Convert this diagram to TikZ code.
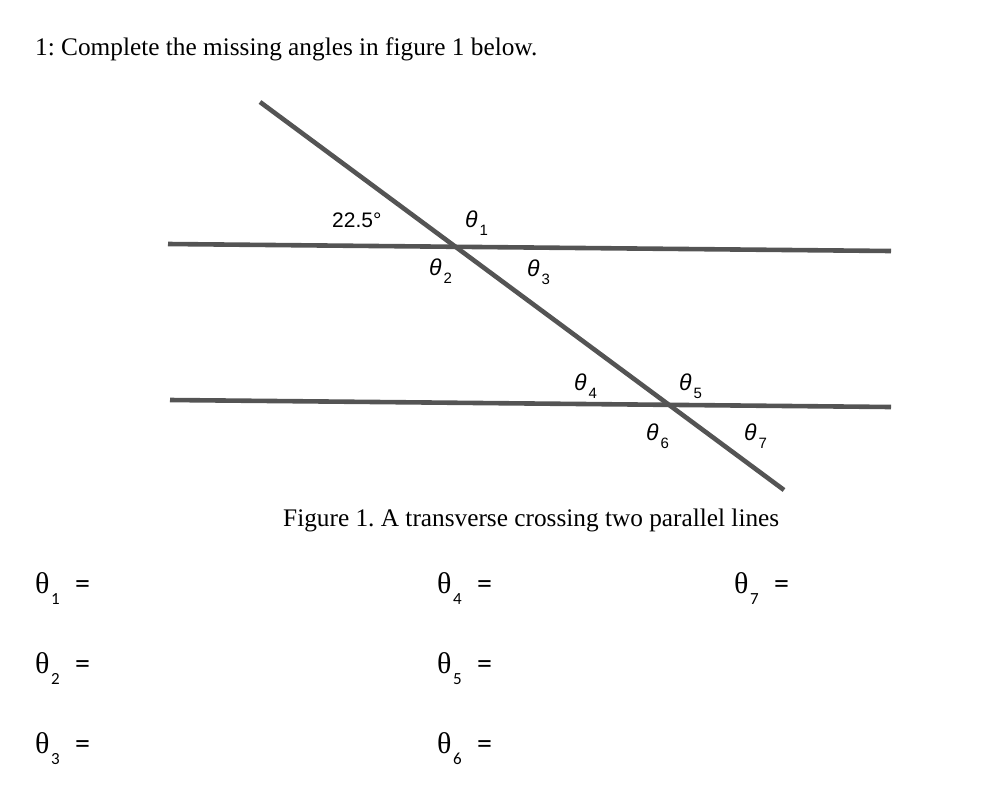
\documentclass[tikz,border=0pt]{standalone}
\usepackage{fontspec}
\setmainfont{Liberation Serif}
\setsansfont{Liberation Sans}
\newfontfamily\subfont{Carlito}
\usetikzlibrary{positioning}
\frenchspacing

\tikzset{
    figline/.style={draw=black!67, line width=4.6pt},
    anglab/.style={anchor=base west, inner sep=0pt, font=\sffamily\fontsize{23}{23}\selectfont},
    answer/.style={anchor=base west, inner sep=0pt, font=\fontsize{30}{30}\selectfont},
    bigtext/.style={anchor=base west, inner sep=0pt, font=\fontsize{25.3}{30}\selectfont}
}
% angle in the figure: italic theta, subscript set low
\newcommand{\figangle}[1]{\textit{θ}\hspace{2pt}\raisebox{-8pt}{\fontsize{15}{15}\selectfont #1}}
% answer line: theta, subscript, equals sign
\newcommand{\answerline}[1]{\makebox[40pt][l]{θ\hspace{1.5pt}\raisebox{-11pt}{\subfont\fontsize{17}{17}\selectfont #1}}{\subfont =}}

\begin{document}
\begin{tikzpicture}[x=1pt, y=-1pt]
        \useasboundingbox (0,0) rectangle (987,804);
        % Title
        \node[bigtext] (title) at (35,55) {1: Complete the missing angles in figure 1 below.};
        % End points of the lines
        \coordinate (topL) at (168,244);
        \coordinate (topR) at (891,251);
        \coordinate (botL) at (170,400);
        \coordinate (botR) at (891,407);
        \coordinate (crossA) at (260,102);
        \coordinate (crossB) at (784,490);
        % Two parallel lines and the transverse
        \draw[figline] (topL) -- (topR);
        \draw[figline] (botL) -- (botR);
        \draw[figline] (crossA) -- (crossB);
        % Labels of the angles
        \node[anglab, font=\sffamily\fontsize{21}{21}\selectfont] (given) at (332,227) {22.5°};
        \node[anglab] (th1) at (465,227) {\figangle{1}};
        \node[anglab] (th2) at (429,275) {\figangle{2}};
        \node[anglab] (th3) at (527,276) {\figangle{3}};
        \node[anglab] (th4) at (574,390) {\figangle{4}};
        \node[anglab] (th5) at (679,390) {\figangle{5}};
        \node[anglab] (th6) at (646,440) {\figangle{6}};
        \node[anglab] (th7) at (744,440) {\figangle{7}};
        % Caption
        \node[bigtext] (caption) at (283,526) {Figure 1. A transverse crossing two parallel lines};
        % Answers
        \node[answer] (ans1) at (35,593) {\answerline{1}};
        \node[answer] (ans2) at (35,673) {\answerline{2}};
        \node[answer] (ans3) at (35,753) {\answerline{3}};
        \node[answer] (ans4) at (437,593) {\answerline{4}};
        \node[answer] (ans5) at (437,673) {\answerline{5}};
        \node[answer] (ans6) at (437,753) {\answerline{6}};
        \node[answer] (ans7) at (734,593) {\answerline{7}};
    \end{tikzpicture}
\end{document}
